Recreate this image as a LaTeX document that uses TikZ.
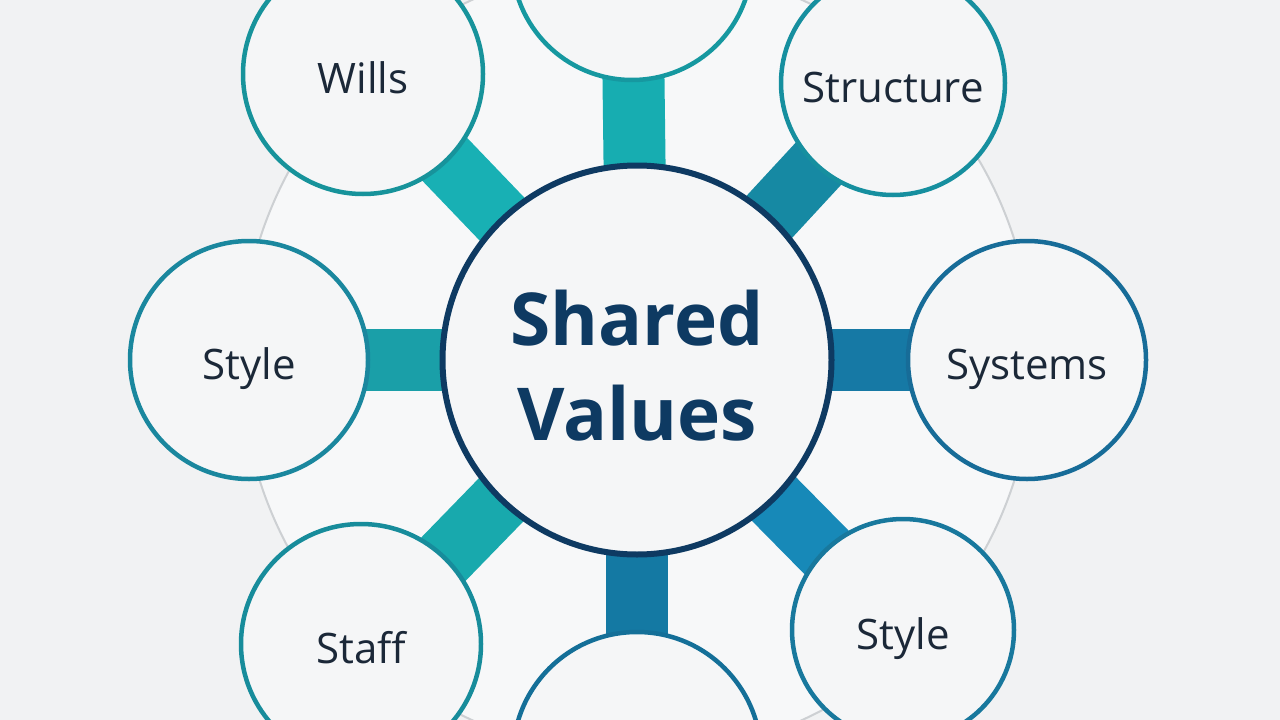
\documentclass[tikz,border=0pt]{standalone}
\usepackage{fontspec}
\setmainfont{Open Sans}
\pgfdeclarelayer{bglayer}
\pgfdeclarelayer{ringlayer}
\pgfdeclarelayer{barlayer}
\pgfsetlayers{bglayer,ringlayer,barlayer,main}
\definecolor{bgc}{HTML}{F1F2F3}
\definecolor{ringfill}{HTML}{F7F8F9}
\definecolor{ringline}{HTML}{CDD0D3}
\definecolor{navy}{HTML}{0E3A62}
\definecolor{labelc}{HTML}{1B2838}
\definecolor{nodefill}{HTML}{F5F6F7}
\definecolor{bTop}{HTML}{1698A0}
\definecolor{bWills}{HTML}{17939B}
\definecolor{bStruct}{HTML}{168F9F}
\definecolor{bStyleL}{HTML}{1A879E}
\definecolor{bSys}{HTML}{176C98}
\definecolor{bStaff}{HTML}{178C9B}
\definecolor{bBot}{HTML}{146F98}
\definecolor{bStyleR}{HTML}{18789D}
\definecolor{kTop}{HTML}{17ADB1}
\definecolor{kWills}{HTML}{18B0B4}
\definecolor{kStruct}{HTML}{1689A3}
\definecolor{kStyleL}{HTML}{1A9FA8}
\definecolor{kSys}{HTML}{1679A5}
\definecolor{kStaff}{HTML}{18A9AD}
\definecolor{kBot}{HTML}{1479A3}
\definecolor{kStyleR}{HTML}{1789B8}
\newcommand{\lowered}[1]{\raisebox{-6pt}[\height][\depth]{#1}}
\begin{document}
\begin{tikzpicture}[x=1pt,y=1pt,
  hub/.style={circle,draw=navy,line width=6pt,fill=nodefill,minimum size=389pt,inner sep=0pt,
    font=\fontsize{73}{92}\selectfont\bfseries,text=navy,align=center},
  leaf/.style={circle,line width=4.5pt,fill=nodefill,inner sep=0pt,
    text height=48pt,text depth=10pt,
    font=\fontsize{42}{50}\selectfont,text=labelc},
  bar/.style={line width=62pt}]
\useasboundingbox (0,0) rectangle (1280,-720);

\node[hub] (c) at (637,-360) {\lowered{Shared}\\[3pt]\lowered{Values}};
\node[leaf,draw=bTop,minimum size=240pt] (top) at (632,40) {};
\node[leaf,draw=bWills,minimum size=240pt] (wills) at (363,-74) {Wills};
\node[leaf,draw=bStruct,minimum size=224pt] (struct) at (893,-83) {Structure};
\node[leaf,draw=bStyleL,minimum size=238pt] (styleL) at (249,-360) {Style};
\node[leaf,draw=bSys,minimum size=238pt] (systems) at (1027,-360) {Systems};
\node[leaf,draw=bStaff,minimum size=240pt] (staff) at (361,-644) {Staff};
\node[leaf,draw=bBot,minimum size=248pt] (bottom) at (637,-756) {};
\node[leaf,draw=bStyleR,minimum size=222pt] (styleR) at (903,-630) {Style};

\begin{pgfonlayer}{bglayer}
  \fill[bgc] (0,0) rectangle (1280,-720);
\end{pgfonlayer}
\begin{pgfonlayer}{ringlayer}
  \draw[ringline,line width=2pt,fill=ringfill] (c.center) circle[radius=396];
\end{pgfonlayer}
\begin{pgfonlayer}{barlayer}
  \draw[bar,kTop] (c.center) -- (top.center);
  \draw[bar,kWills] (c.center) -- (wills.center);
  \draw[bar,kStruct] (c.center) -- (struct.center);
  \draw[bar,kStyleL] (c.center) -- (styleL.center);
  \draw[bar,kSys] (c.center) -- (systems.center);
  \draw[bar,kStaff] (c.center) -- (staff.center);
  \draw[bar,kBot] (c.center) -- (bottom.center);
  \draw[bar,kStyleR] (c.center) -- (styleR.center);
\end{pgfonlayer}
\end{tikzpicture}
\end{document}
